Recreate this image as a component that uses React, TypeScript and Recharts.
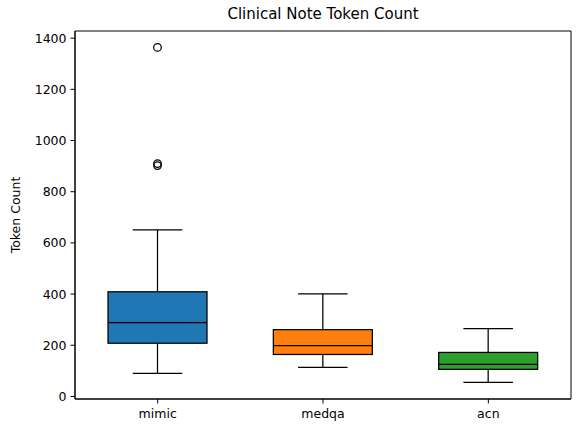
import { Bar, CartesianGrid, ComposedChart, XAxis, YAxis } from "recharts";

// box stats
const datasets = ["mimic", "medqa", "acn"];
const whiskerLow = [90, 114, 55];
const q1 = [208, 164, 106];
const median = [288, 199, 125];
const q3 = [409, 261, 172];
const whiskerHigh = [651, 401, 265];
const outliers = [[1364, 910, 902], [], []];
const colors = ["#1f77b4", "#ff7f0e", "#2ca02c"];

const yTicks = [0, 200, 400, 600, 800, 1000, 1200, 1400];

const rows = datasets.map((name, i) => ({
  name,
  range: [whiskerLow[i], whiskerHigh[i]],
  low: whiskerLow[i],
  q1: q1[i],
  median: median[i],
  q3: q3[i],
  high: whiskerHigh[i],
  fliers: outliers[i],
  color: colors[i],
}));

const FONT = "'DejaVu Sans', sans-serif";
const LINE = 1.25;

// the bar spans low..high, so values are mapped linearly inside that rect
function BoxShape(props: any) {
  const { x, y, width, height, payload } = props;
  const { low, high } = payload;
  const py = (v: number) => y + ((high - v) / (high - low)) * height;
  const cx = x + width / 2;
  const capHalf = width / 4;
  return (
    <g>
      <line x1={cx} x2={cx} y1={py(low)} y2={py(payload.q1)} stroke="#000" strokeWidth={LINE} />
      <line x1={cx} x2={cx} y1={py(payload.q3)} y2={py(high)} stroke="#000" strokeWidth={LINE} />
      <line x1={cx - capHalf} x2={cx + capHalf} y1={py(low)} y2={py(low)} stroke="#000" strokeWidth={LINE} />
      <line x1={cx - capHalf} x2={cx + capHalf} y1={py(high)} y2={py(high)} stroke="#000" strokeWidth={LINE} />
      <rect
        x={x}
        y={py(payload.q3)}
        width={width}
        height={py(payload.q1) - py(payload.q3)}
        fill={payload.color}
        stroke="#000"
        strokeWidth={LINE}
      />
      <line x1={x} x2={x + width} y1={py(payload.median)} y2={py(payload.median)} stroke="#000" strokeWidth={LINE} />
      {payload.fliers.map((v: number, k: number) => (
        <circle key={k} cx={cx} cy={py(v)} r={3.8} fill="none" stroke="#000" strokeWidth={LINE} />
      ))}
    </g>
  );
}

// frame on all four sides, like matplotlib spines
const frameRows = ({ offset }: any) => [offset.top, offset.top + offset.height];
const frameCols = ({ offset }: any) => [offset.left, offset.left + offset.width];

export default function App() {
  return (
    <div style={{ position: "relative", width: 580, height: 433, background: "#fff" }}>
      <style>{"body{margin:0}"}</style>
      <div
        style={{
          position: "absolute",
          left: 75,
          width: 496,
          top: 5,
          textAlign: "center",
          fontFamily: FONT,
          fontSize: 15,
          lineHeight: "18px",
          color: "#000",
        }}
      >
        Clinical Note Token Count
      </div>
      <ComposedChart
        width={580}
        height={433}
        data={rows}
        margin={{ top: 31, right: 9, left: 0, bottom: 0 }}
      >
        <CartesianGrid
          stroke="#000"
          strokeWidth={1}
          fill="none"
          horizontalCoordinatesGenerator={frameRows}
          verticalCoordinatesGenerator={frameCols}
        />
        <XAxis
          dataKey="name"
          height={34}
          tickSize={4.5}
          tickMargin={6}
          axisLine={{ stroke: "#000", strokeWidth: 1 }}
          tickLine={{ stroke: "#000" }}
          tick={{ fill: "#000", fontSize: 12.5, fontFamily: FONT }}
        />
        <YAxis
          type="number"
          width={75}
          domain={[-10, 1428]}
          ticks={yTicks}
          tickSize={4.5}
          tickMargin={4}
          axisLine={{ stroke: "#000", strokeWidth: 1 }}
          tickLine={{ stroke: "#000" }}
          tick={{ fill: "#000", fontSize: 12.5, fontFamily: FONT }}
          label={{
            value: "Token Count",
            angle: -90,
            position: "insideLeft",
            offset: 16,
            style: { textAnchor: "middle", fill: "#000", fontSize: 12.5, fontFamily: FONT },
          }}
        />
        <Bar dataKey="range" barSize={99} shape={<BoxShape />} isAnimationActive={false} />
      </ComposedChart>
    </div>
  );
}
